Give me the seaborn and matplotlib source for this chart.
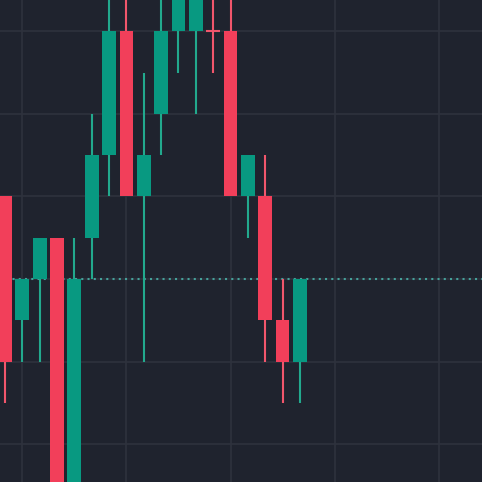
import numpy as np
import pandas as pd
import seaborn as sns
import matplotlib
matplotlib.use("Agg")
import matplotlib.pyplot as plt

# candle data
opens  = [110, 95, 100, 105, 72, 105, 115, 130, 110, 120, 130, 130, 130, 130, 110, 110, 95, 90]
highs  = [110, 100, 105, 105, 105, 120, 138, 138, 125, 138, 138, 138, 138, 138, 115, 115, 100, 100]
lows   = [85, 90, 90, 70, 70, 100, 110, 110, 90, 115, 125, 120, 125, 110, 105, 90, 85, 85]
closes = [90, 100, 105, 72, 100, 115, 130, 110, 115, 130, 136, 136, 130, 110, 115, 95, 90, 100]
last_price = 100

df = pd.DataFrame({"open": opens, "high": highs, "low": lows, "close": closes})
df["idx"] = np.arange(len(df))
df["up"] = df["close"] > df["open"]

bg = "#1f232e"
up_col = "#089981"
down_col = "#f23f5a"

sns.set_theme(style="dark", rc={"axes.facecolor": bg, "figure.facecolor": bg})

fig = plt.figure(figsize=(4.82, 4.82), dpi=100)
ax = fig.add_axes([0, 0, 1, 1])
ax.set_facecolor(bg)

colors = np.where(df["up"], up_col, down_col)
wick_colors = np.where(df["up"], "#22a98d", "#f1566c")

# wicks
ax.vlines(df["idx"], df["low"], df["high"], colors=wick_colors, linewidth=1.5, zorder=2)

# bodies
body_bottom = df[["open", "close"]].min(axis=1)
body_height = (df["close"] - df["open"]).abs()
ax.bar(df["idx"], body_height, bottom=body_bottom, width=0.8, color=colors,
       linewidth=0, zorder=3)

# doji candles
doji = df[body_height == 0]
ax.hlines(doji["open"], doji["idx"] - 0.4, doji["idx"] + 0.4, colors="#f1566c",
          linewidth=1.5, zorder=3)

# last price line
ax.axhline(last_price, color="#45a09a", linestyle=(0, (1, 2)), linewidth=1.5, zorder=1)

ax.set_xlim(-0.29, 27.5)
ax.set_ylim(75.4, 133.8)
ax.set_xticks(np.arange(1, 28, 6))
ax.set_yticks(np.arange(80, 131, 10))
ax.grid(True, color="#2e323d", linewidth=1.2, zorder=0)
ax.tick_params(length=0, labelbottom=False, labelleft=False)
for s in ax.spines.values():
    s.set_visible(False)

fig.savefig("out.png", dpi=100, facecolor=bg)
